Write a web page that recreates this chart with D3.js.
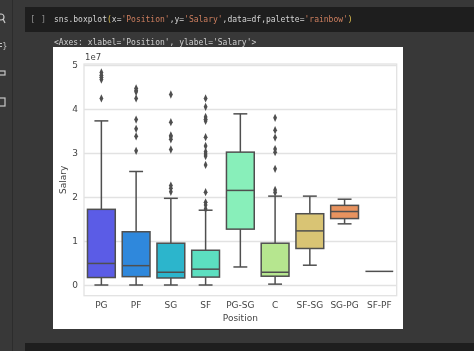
<!DOCTYPE html>
<html>
<head>
<meta charset="utf-8">
<script src="https://cdn.jsdelivr.net/npm/d3@7"></script>
<style>
    html, body { margin: 0; padding: 0; background: #383838; overflow: hidden; }
    svg { display: block; filter: blur(0.35px); }
</style>
</head>
<body>
<div id="my_dataviz"></div>
<script>
// values, in units of 1e7
const positions = ["PG", "PF", "SG", "SF", "PG-SG", "C", "SF-SG", "SG-PG", "SF-PF"];
const q1 = [0.17, 0.19, 0.16, 0.18, 1.27, 0.20, 0.83, 1.51, 0.31];
const medians = [0.49, 0.44, 0.29, 0.36, 2.15, 0.29, 1.23, 1.67, 0.31];
const q3 = [1.72, 1.21, 0.95, 0.79, 3.02, 0.95, 1.62, 1.81, 0.31];
const whiskerLow = [0, 0, 0, 0, 0.41, 0.02, 0.45, 1.39, 0.31];
const whiskerHigh = [3.73, 2.58, 1.97, 1.70, 3.89, 2.02, 2.02, 1.95, 0.31];
const fliers = [
    [4.83, 4.77, 4.72, 4.67, 4.24],
    [4.47, 4.42, 4.39, 4.24, 3.76, 3.55, 3.38, 3.05],
    [4.33, 3.70, 3.40, 3.37, 3.31, 3.08, 2.26, 2.20, 2.12],
    [4.24, 4.05, 3.82, 3.77, 3.73, 3.36, 3.16, 3.03, 2.98, 2.93, 2.73, 2.11, 1.88, 1.82, 1.73],
    [],
    [3.80, 3.52, 3.35, 3.09, 3.02, 2.64, 2.16, 2.10],
    [],
    [],
    []
];
const boxColors = ["#5b5ce6", "#2f88dc", "#2cb5cc", "#5cdfc0", "#88efba", "#b6e68f", "#d9c474", "#e8935f", "#e8604a"];
const yTicks = [0, 1, 2, 3, 4, 5];

const codeLine = "sns.boxplot(x='Position',y='Salary',data=df,palette='rainbow')";
const outputLine = "<Axes: xlabel='Position', ylabel='Salary'>";

const svg = d3.select("#my_dataviz")
    .append("svg")
    .attr("width", 474)
    .attr("height", 351);

// notebook background
svg.append("rect").attr("width", 474).attr("height", 351).attr("fill", "#383838");
svg.append("rect").attr("x", 12).attr("width", 1).attr("height", 351).attr("fill", "#2c2c2c");
svg.append("rect").attr("x", 25).attr("y", 7).attr("width", 449).attr("height", 25).attr("fill", "#1e1e1e");
svg.append("rect").attr("x", 25).attr("y", 343).attr("width", 449).attr("height", 8).attr("fill", "#1e1e1e");

// sidebar icons
const icons = svg.append("g").attr("fill", "none").attr("stroke", "#c8c8c8").attr("stroke-width", 1.2);
icons.append("circle").attr("cx", 1).attr("cy", 17).attr("r", 3);
icons.append("line").attr("x1", 3).attr("y1", 19).attr("x2", 5).attr("y2", 23);
icons.append("line").attr("x1", -1).attr("y1", 43.5).attr("x2", 2).attr("y2", 43.5);
icons.append("line").attr("x1", -1).attr("y1", 46.5).attr("x2", 2).attr("y2", 46.5);
icons.append("rect").attr("x", -3).attr("y", 71).attr("width", 8).attr("height", 4);
icons.append("rect").attr("x", -3).attr("y", 98).attr("width", 8).attr("height", 8);
svg.append("text")
    .attr("x", 2.5).attr("y", 48.5)
    .attr("font-family", "DejaVu Sans Mono").attr("font-size", 8).attr("fill", "#c8c8c8")
    .text("}");

// code cell text
const mono = svg.append("g").attr("font-family", "DejaVu Sans Mono").attr("font-size", 8);
mono.append("text").attr("x", 30).attr("y", 22).attr("font-size", 9).attr("fill", "#8a8a8a").text("[ ]");

const code = mono.append("text").attr("x", 54).attr("y", 22).attr("fill", "#d4d4d4");
codeLine.split(/('[^']*'|[()])/).forEach(part => {
    let color = "#d4d4d4";
    if (part.startsWith("'")) color = "#ce7f5f";
    if (part === "(" || part === ")") color = "#e0c050";
    code.append("tspan").attr("fill", color).text(part);
});

mono.append("text").attr("x", 54).attr("y", 44.5).attr("fill", "#cfcfcf").text(outputLine);

// output image
svg.append("rect").attr("x", 53).attr("y", 47).attr("width", 350).attr("height", 282).attr("fill", "#fff");

const plotLeft = 84, plotRight = 396.7, plotTop = 64, plotBottom = 295.7;

const xScale = d3.scaleBand().domain(positions).range([plotLeft, plotRight]);
const yScale = d3.scaleLinear().domain([-0.243, 5.023]).range([plotBottom, plotTop]);
const inkColor = "#4f4f4f";
const textColor = "#444";

// grid and value labels
const yAxis = svg.append("g")
    .attr("transform", `translate(${plotLeft},0)`)
    .call(d3.axisLeft(yScale).tickValues(yTicks).tickFormat(d3.format("d")).tickSize(-(plotRight - plotLeft)).tickPadding(6));
yAxis.select(".domain").remove();
yAxis.selectAll("line").attr("stroke", "#e2e2e2").attr("stroke-width", 1.3);

const xAxis = svg.append("g")
    .attr("transform", `translate(0,${plotBottom})`)
    .call(d3.axisBottom(xScale).tickSize(0).tickPadding(6));
xAxis.select(".domain").remove();

svg.selectAll(".tick text")
    .attr("font-family", "DejaVu Sans")
    .attr("font-size", 9)
    .attr("fill", textColor);

// frame
svg.append("rect")
    .attr("x", plotLeft).attr("y", plotTop)
    .attr("width", plotRight - plotLeft).attr("height", plotBottom - plotTop)
    .attr("fill", "none").attr("stroke", "#e2e2e2").attr("stroke-width", 1.3);

// axis titles
svg.append("text")
    .attr("x", (plotLeft + plotRight) / 2).attr("y", 320.5)
    .attr("text-anchor", "middle")
    .attr("font-family", "DejaVu Sans").attr("font-size", 9).attr("fill", textColor)
    .text("Position");
svg.append("text")
    .attr("transform", "rotate(-90)")
    .attr("x", -(plotTop + plotBottom) / 2).attr("y", 66)
    .attr("text-anchor", "middle")
    .attr("font-family", "DejaVu Sans").attr("font-size", 9).attr("fill", textColor)
    .text("Salary");
svg.append("text")
    .attr("x", plotLeft + 1).attr("y", 60)
    .attr("font-family", "DejaVu Sans").attr("font-size", 8.5).attr("fill", textColor)
    .text("1e7");

// one group per position
const boxWidth = xScale.bandwidth() * 0.8;
const capWidth = xScale.bandwidth() * 0.4;
const groups = svg.selectAll(".box")
    .data(positions)
    .enter()
    .append("g")
    .attr("class", "box")
    .attr("transform", d => `translate(${xScale(d) + xScale.bandwidth() / 2},0)`)
    .attr("stroke", inkColor)
    .attr("stroke-width", 1.5);

// whiskers, skipped where the box has collapsed to one line
const hasBox = (d, i) => q3[i] > q1[i];
const whiskerGroups = groups.filter(hasBox);

whiskerGroups.append("line")
    .attr("y1", d => yScale(q3[positions.indexOf(d)]))
    .attr("y2", d => yScale(whiskerHigh[positions.indexOf(d)]));
whiskerGroups.append("line")
    .attr("y1", d => yScale(q1[positions.indexOf(d)]))
    .attr("y2", d => yScale(whiskerLow[positions.indexOf(d)]));
whiskerGroups.append("line")
    .attr("x1", -capWidth / 2).attr("x2", capWidth / 2)
    .attr("y1", d => yScale(whiskerHigh[positions.indexOf(d)]))
    .attr("y2", d => yScale(whiskerHigh[positions.indexOf(d)]));
whiskerGroups.append("line")
    .attr("x1", -capWidth / 2).attr("x2", capWidth / 2)
    .attr("y1", d => yScale(whiskerLow[positions.indexOf(d)]))
    .attr("y2", d => yScale(whiskerLow[positions.indexOf(d)]));

whiskerGroups.append("rect")
    .attr("x", -boxWidth / 2)
    .attr("width", boxWidth)
    .attr("y", d => yScale(q3[positions.indexOf(d)]))
    .attr("height", d => yScale(q1[positions.indexOf(d)]) - yScale(q3[positions.indexOf(d)]))
    .attr("fill", d => boxColors[positions.indexOf(d)]);

groups.append("line")
    .attr("x1", -boxWidth / 2).attr("x2", boxWidth / 2)
    .attr("y1", d => yScale(medians[positions.indexOf(d)]))
    .attr("y2", d => yScale(medians[positions.indexOf(d)]));

// outliers as thin diamonds
const diamond = d3.symbol().type(d3.symbolDiamond).size(20);
groups.selectAll(".flier")
    .data(d => fliers[positions.indexOf(d)])
    .enter()
    .append("path")
    .attr("class", "flier")
    .attr("d", diamond)
    .attr("transform", d => `translate(0,${yScale(d)}) scale(0.8,1)`)
    .attr("fill", inkColor)
    .attr("stroke", "none");
</script>
</body>
</html>
